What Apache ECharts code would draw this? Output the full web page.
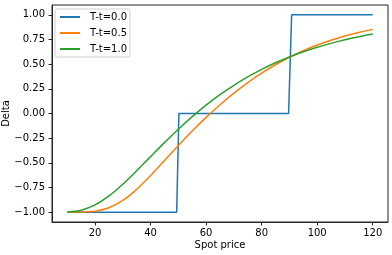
<!DOCTYPE html>
<html>
<head>
<meta charset="utf-8">
<script src="https://cdn.jsdelivr.net/npm/echarts@6/dist/echarts.min.js"></script>
<style>
html,body{margin:0;padding:0;background:#fff;}
#chart{width:392px;height:255px;}
</style>
</head>
<body>
<div id="chart"></div>
<script>
// Spot prices for the smooth curves
const spot = [10,15,20,25,30,35,40,45,50,55,60,65,70,75,80,85,90,95,100,105,110,115,120];
// Delta at T-t = 0.5
const delta05 = [-1.000,-0.999,-0.990,-0.956,-0.882,-0.769,-0.629,-0.477,-0.324,-0.177,-0.039,0.089,0.206,0.313,0.409,0.494,0.570,0.636,0.694,0.743,0.786,0.822,0.853];
// Delta at T-t = 1.0
const delta10 = [-0.998,-0.980,-0.927,-0.836,-0.717,-0.580,-0.437,-0.295,-0.159,-0.032,0.085,0.191,0.286,0.371,0.447,0.514,0.573,0.626,0.671,0.711,0.747,0.778,0.805];
// Delta at expiry (step)
const spot0 = [10,49.4,50.2,89.7,90.8,120];
const delta00 = [-1,-1,0,0,1,1];
const seriesNames = ['T-t=0.0','T-t=0.5','T-t=1.0'];
const xTicks = [20,40,60,80,100,120];
const yTicks = [-1,-0.75,-0.5,-0.25,0,0.25,0.5,0.75,1];

const pair = (xs, ys) => xs.map((x,i)=>[x, ys[i]]);
const font = 'DejaVu Sans';
const chart = echarts.init(document.getElementById('chart'), null, {renderer:'canvas'});
chart.setOption({
  animation:false,
  color:['#1f77b4','#ff7f0e','#2ca02c'],
  grid:{left:52,right:4,top:5,bottom:33,containLabel:false,outerBoundsMode:'none',show:true,borderColor:'#262626',borderWidth:1,backgroundColor:'transparent'},
  legend:{
    orient:'vertical', left:55, top:9,
    data:seriesNames,
    icon:'rect', itemWidth:20, itemHeight:2, itemGap:4,
    padding:[2,3,2,5],
    borderColor:'#d0d0d0', borderWidth:1, borderRadius:2, backgroundColor:'rgba(255,255,255,0.8)',
    textStyle:{fontFamily:font,fontSize:10,color:'#000',lineHeight:12,padding:[0,0,0,5]}
  },
  xAxis:{
    type:'value', min:4.5, max:125.5,
    name:'Spot price', nameLocation:'middle', nameGap:18, nameMoveOverlap:false,
    nameTextStyle:{fontFamily:font,fontSize:10,color:'#000'},
    axisLine:{show:true,onZero:false,lineStyle:{color:'#262626',width:1}},
    axisTick:{show:true,inside:false,length:3.5,customValues:xTicks,lineStyle:{color:'#262626'}},
    axisLabel:{customValues:xTicks,margin:6,fontFamily:font,fontSize:10,color:'#000'},
    splitLine:{show:false}
  },
  yAxis:{
    type:'value', min:-1.1, max:1.1,
    name:'Delta', nameLocation:'middle', nameGap:41, nameRotate:90, nameMoveOverlap:false,
    nameTextStyle:{fontFamily:font,fontSize:10,color:'#000'},
    axisLine:{show:true,onZero:false,lineStyle:{color:'#262626',width:1}},
    axisTick:{show:true,inside:false,length:3.5,customValues:yTicks,lineStyle:{color:'#262626'}},
    axisLabel:{customValues:yTicks,margin:7,fontFamily:font,fontSize:10,color:'#000',
      formatter:v=>v.toFixed(2).replace('-','\u2212')},
    splitLine:{show:false}
  },
  series:[
    {name:seriesNames[0],type:'line',data:pair(spot0,delta00),showSymbol:false,symbol:'none',lineStyle:{width:1.5},z:3},
    {name:seriesNames[1],type:'line',data:pair(spot,delta05),showSymbol:false,symbol:'none',smooth:0.3,lineStyle:{width:1.5},z:4},
    {name:seriesNames[2],type:'line',data:pair(spot,delta10),showSymbol:false,symbol:'none',smooth:0.3,lineStyle:{width:1.5},z:5}
  ]
});
</script>
</body>
</html>
